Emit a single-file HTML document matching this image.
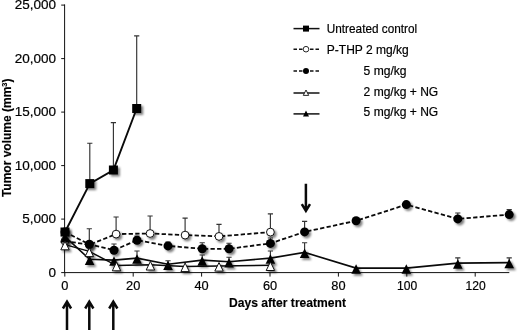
<!DOCTYPE html>
<html><head><meta charset="utf-8"><title>Chart</title>
<style>
html,body{margin:0;padding:0;background:#fff;}
body{width:520px;height:335px;overflow:hidden;}
svg{display:block;font-family:"Liberation Sans",sans-serif;}
.t{font-size:13.5px;fill:#000;stroke:#000;stroke-width:0.2px;}
.b{font-size:12.1px;font-weight:bold;fill:#000;stroke:#000;stroke-width:0.15px;}
</style></head><body>
<svg width="520" height="335" viewBox="0 0 520 335">
<defs>
<filter id="sh" x="-50%" y="-50%" width="220%" height="220%">
<feGaussianBlur in="SourceAlpha" stdDeviation="1.25" result="b"/>
<feOffset in="b" dx="2.2" dy="2.2" result="o"/>
<feComponentTransfer in="o" result="o2"><feFuncA type="linear" slope="0.5"/></feComponentTransfer>
<feMerge><feMergeNode in="o2"/><feMergeNode in="SourceGraphic"/></feMerge>
</filter>
</defs>
<rect width="520" height="335" fill="#fff"/>

<g stroke="#111" stroke-width="1" fill="none">
<path d="M64.6 4.5V272.6H509.3"/>
<path d="M61.2 272.60H65"/>
<path d="M61.2 219.10H65"/>
<path d="M61.2 165.60H65"/>
<path d="M61.2 112.10H65"/>
<path d="M61.2 58.60H65"/>
<path d="M61.2 5.10H65"/>
<path d="M64.80 272.6V276.6"/>
<path d="M133.20 272.6V276.6"/>
<path d="M201.60 272.6V276.6"/>
<path d="M270.00 272.6V276.6"/>
<path d="M338.40 272.6V276.6"/>
<path d="M406.80 272.6V276.6"/>
<path d="M475.20 272.6V276.6"/>
</g>
<text class="t" x="56" y="276.50" text-anchor="end">0</text>
<text class="t" x="56" y="223.00" text-anchor="end">5,000</text>
<text class="t" x="56" y="169.50" text-anchor="end">10,000</text>
<text class="t" x="56" y="116.00" text-anchor="end">15,000</text>
<text class="t" x="56" y="62.50" text-anchor="end">20,000</text>
<text class="t" x="56" y="9.00" text-anchor="end">25,000</text>
<text class="t" style="font-size:12.8px" x="64.80" y="290.4" text-anchor="middle">0</text>
<text class="t" style="font-size:12.8px" x="133.20" y="290.4" text-anchor="middle">20</text>
<text class="t" style="font-size:12.8px" x="201.60" y="290.4" text-anchor="middle">40</text>
<text class="t" style="font-size:12.8px" x="270.00" y="290.4" text-anchor="middle">60</text>
<text class="t" style="font-size:12.8px" x="338.40" y="290.4" text-anchor="middle">80</text>
<text class="t" style="font-size:12.8px" x="407.20" y="290.4" text-anchor="middle" textLength="20.2" lengthAdjust="spacingAndGlyphs">100</text>
<text class="t" style="font-size:12.8px" x="475.60" y="290.4" text-anchor="middle" textLength="20.2" lengthAdjust="spacingAndGlyphs">120</text>
<text class="b" x="287.5" y="306.8" text-anchor="middle">Days after treatment</text>
<text class="b" transform="translate(10.9,197.1) rotate(-90)" textLength="118.6" lengthAdjust="spacingAndGlyphs" style="font-size:12.3px">Tumor volume (mm<tspan dy="-4" style="font-size:7.6px">3</tspan><tspan dy="4">)</tspan></text>
<g stroke="#333" stroke-width="1.15" fill="none"><path d="M89.8 183.6V143.2M87.2 143.2H92.4"/><path d="M113.4 170.0V122.6M110.8 122.6H116.0"/><path d="M136.7 108.5V35.8M134.1 35.8H139.3"/></g>
<g stroke="#333" stroke-width="1.15" fill="none"><path d="M116.1 234.1V217.0M113.5 217.0H118.7"/><path d="M150.1 233.5V216.0M147.5 216.0H152.7"/><path d="M185.1 235.1V218.1M182.5 218.1H187.7"/><path d="M219.0 236.4V224.3M216.4 224.3H221.6"/><path d="M270.4 232.1V213.8M267.8 213.8H273.0"/></g>
<g stroke="#333" stroke-width="1.15" fill="none"><path d="M89.3 244.3V228.7M86.7 228.7H91.9"/><path d="M114.0 250.2V244.0M111.4 244.0H116.6"/><path d="M137.0 240.2V236.0M134.4 236.0H139.6"/><path d="M168.0 245.9V242.0M165.4 242.0H170.6"/><path d="M202.2 248.8V242.7M199.6 242.7H204.8"/><path d="M229.0 248.8V243.2M226.4 243.2H231.6"/><path d="M270.4 243.4V238.0M267.8 238.0H273.0"/><path d="M304.6 231.9V221.4M302.0 221.4H307.2"/><path d="M457.8 218.9V213.0M455.2 213.0H460.4"/><path d="M509.2 214.6V209.6M506.6 209.6H511.8"/></g>
<g stroke="#333" stroke-width="1.15" fill="none"><path d="M137.0 259.0V251.0M134.4 251.0H139.6"/><path d="M168.0 265.2V260.7M165.4 260.7H170.6"/><path d="M202.2 261.0V255.0M199.6 255.0H204.8"/><path d="M229.0 262.7V257.2M226.4 257.2H231.6"/><path d="M270.4 259.0V251.0M267.8 251.0H273.0"/><path d="M304.6 253.3V242.7M302.0 242.7H307.2"/><path d="M457.8 264.0V257.8M455.2 257.8H460.4"/><path d="M509.2 263.5V257.8M506.6 257.8H511.8"/></g>
<g stroke="#333" stroke-width="1.15" fill="none"></g>
<path d="M65.0 232.0L89.8 183.6L113.4 170.0L136.7 108.5" stroke="#0a0a0a" stroke-width="1.9" fill="none"/>
<g fill="#000" filter="url(#sh)"><rect x="60.5" y="227.5" width="9" height="9"/><rect x="85.3" y="179.1" width="9" height="9"/><rect x="108.9" y="165.5" width="9" height="9"/><rect x="132.2" y="104.0" width="9" height="9"/></g>
<path d="M65.0 241.0L89.3 244.8L116.1 234.1L150.1 233.5L185.1 235.1L219.0 236.4L270.4 232.1" stroke="#0a0a0a" stroke-width="1.8" fill="none" stroke-dasharray="4.3 2.3"/>
<g fill="#fff" stroke="#111" stroke-width="1" filter="url(#sh)"><circle cx="65.0" cy="241.0" r="3.9"/><circle cx="89.3" cy="244.8" r="3.9"/><circle cx="116.1" cy="234.1" r="3.9"/><circle cx="150.1" cy="233.5" r="3.9"/><circle cx="185.1" cy="235.1" r="3.9"/><circle cx="219.0" cy="236.4" r="3.9"/><circle cx="270.4" cy="232.1" r="3.9"/></g>
<path d="M65.0 232.1L89.3 244.3L114.0 250.2L137.0 240.2L168.0 245.9L202.2 248.8L229.0 248.8L270.4 243.4L304.6 231.9L356.1 220.8L406.3 204.6L457.8 218.9L509.2 214.6" stroke="#0a0a0a" stroke-width="1.8" fill="none" stroke-dasharray="4.3 2.3"/>
<g fill="#000" filter="url(#sh)"><circle cx="65.0" cy="232.1" r="4.5"/><circle cx="89.3" cy="244.3" r="4.5"/><circle cx="114.0" cy="250.2" r="4.5"/><circle cx="137.0" cy="240.2" r="4.5"/><circle cx="168.0" cy="245.9" r="4.5"/><circle cx="202.2" cy="248.8" r="4.5"/><circle cx="229.0" cy="248.8" r="4.5"/><circle cx="270.4" cy="243.4" r="4.5"/><circle cx="304.6" cy="231.9" r="4.5"/><circle cx="356.1" cy="220.8" r="4.5"/><circle cx="406.3" cy="204.6" r="4.5"/><circle cx="457.8" cy="218.9" r="4.5"/><circle cx="509.2" cy="214.6" r="4.5"/></g>
<path d="M65.0 236.7L89.6 259.3L114.0 260.1L137.0 258.1L168.0 264.3L202.2 260.1L229.0 261.8L270.4 258.1L304.6 252.4L356.1 268.1L406.3 268.1L457.8 263.1L509.2 262.6" stroke="#0a0a0a" stroke-width="1.6" fill="none"/>
<g fill="#000" filter="url(#sh)"><path d="M65.0 232.8L69.8 242.4H60.2Z"/><path d="M89.6 255.4L94.4 265.0H84.8Z"/><path d="M114.0 256.2L118.8 265.8H109.2Z"/><path d="M137.0 254.2L141.8 263.8H132.2Z"/><path d="M168.0 260.4L172.8 270.0H163.2Z"/><path d="M202.2 256.2L207.0 265.8H197.4Z"/><path d="M229.0 257.9L233.8 267.5H224.2Z"/><path d="M270.4 254.2L275.2 263.8H265.6Z"/><path d="M304.6 248.5L309.4 258.1H299.8Z"/><path d="M356.1 264.2L360.9 273.8H351.3Z"/><path d="M406.3 264.2L411.1 273.8H401.5Z"/><path d="M457.8 259.2L462.6 268.8H453.0Z"/><path d="M509.2 258.7L514.0 268.3H504.4Z"/></g>
<path d="M65.0 244.6L89.3 251.4L116.5 265.6L150.4 264.8L185.1 266.4L219.0 265.9L270.4 265.3" stroke="#0a0a0a" stroke-width="1.5" fill="none"/>
<g fill="#fff" stroke="#111" stroke-width="1" filter="url(#sh)"><path d="M65.0 241.2L69.2 249.8H60.8Z"/><path d="M89.3 248.0L93.5 256.6H85.1Z"/><path d="M116.5 262.2L120.7 270.8H112.3Z"/><path d="M150.4 261.4L154.6 270.0H146.2Z"/><path d="M185.1 263.0L189.3 271.6H180.9Z"/><path d="M219.0 262.5L223.2 271.1H214.8Z"/><path d="M270.4 261.9L274.6 270.5H266.2Z"/></g>
<g stroke="#0a0a0a" stroke-width="2.5" fill="none" stroke-linecap="butt" stroke-linejoin="miter">
<path d="M67 330V302.0M62.9 308.5L67 301.7L71.1 308.5"/>
<path d="M89.3 330V302.0M85.2 308.5L89.3 301.7L93.39999999999999 308.5"/>
<path d="M113.3 330V302.0M109.2 308.5L113.3 301.7L117.39999999999999 308.5"/>
<path d="M305.9 183.8V210.6M301.79999999999995 204.1L305.9 210.9L310.0 204.1"/>
</g>
<g stroke="#111" stroke-width="1.5" fill="none">
<path d="M293.5 28.6H319.5"/>
<path d="M293.5 49.2H319.5" stroke-dasharray="3.5 2"/>
<path d="M293.5 71.1H319.5" stroke-dasharray="3.5 2"/>
<path d="M293.5 93.0H319.5"/>
<path d="M293.5 113.9H319.5"/>
</g>
<g fill="#000"><rect x="303.0" y="25.6" width="6" height="6"/><circle cx="306.0" cy="71.1" r="3"/><path d="M306.0 110.6L309.0 116.6H303.0Z"/></g>
<g fill="#fff" stroke="#111" stroke-width="0.9"><circle cx="306.0" cy="49.2" r="2.8"/><path d="M306.0 90.0L308.7 95.4H303.3Z"/></g>
<text class="t" style="font-size:12.6px" x="326.8" y="32.8" textLength="90.3" lengthAdjust="spacingAndGlyphs">Untreated control</text>
<text class="t" style="font-size:12.6px" x="326.8" y="53.7" textLength="82" lengthAdjust="spacingAndGlyphs">P-THP 2 mg/kg</text>
<text class="t" style="font-size:12.6px" x="363.6" y="74.9" textLength="43" lengthAdjust="spacingAndGlyphs">5 mg/kg</text>
<text class="t" style="font-size:12.6px" x="363.6" y="95.9" textLength="74.6" lengthAdjust="spacingAndGlyphs">2 mg/kg + NG</text>
<text class="t" style="font-size:12.6px" x="363.6" y="116.3" textLength="74.6" lengthAdjust="spacingAndGlyphs">5 mg/kg + NG</text>
</svg></body></html>
